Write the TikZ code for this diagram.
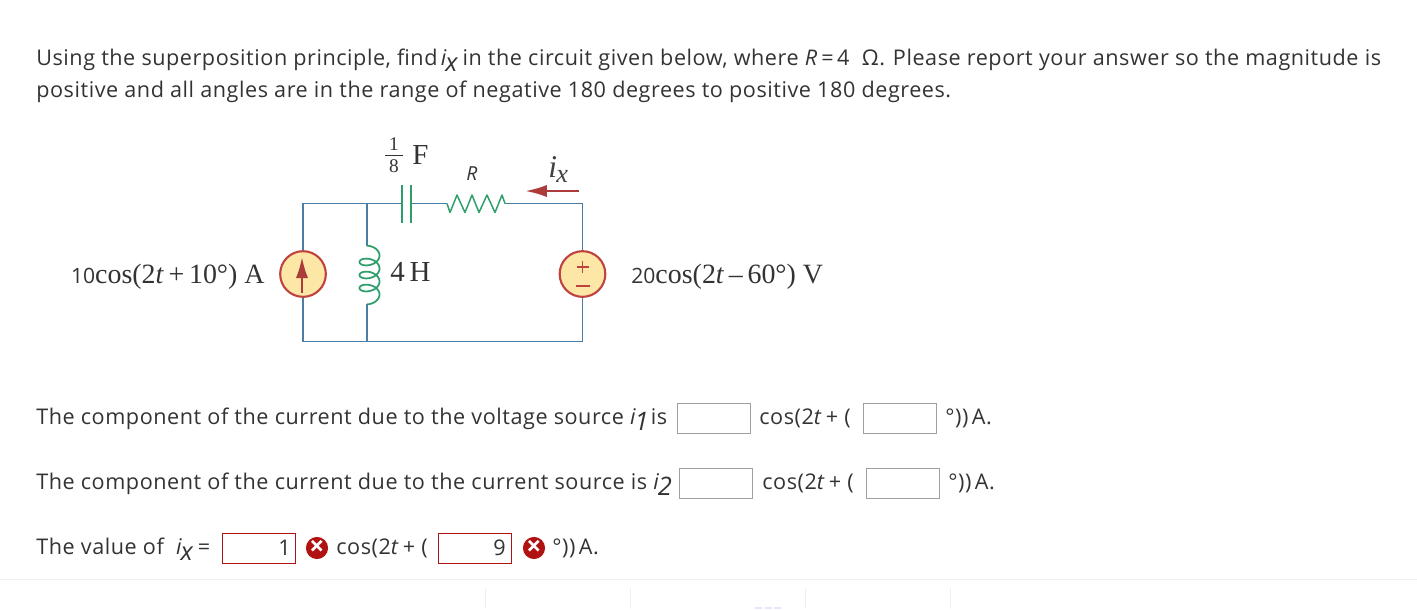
\documentclass[tikz,border=0pt]{standalone}
\usepackage{fontspec}
\setmainfont[LetterSpace=2.5]{Open Sans}
\newfontfamily\bookfont{Liberation Serif}
\usetikzlibrary{arrows.meta}
\definecolor{wireblue}{HTML}{4A7EA8}
\definecolor{partgreen}{HTML}{2E9E6B}
\definecolor{srcred}{HTML}{C0423F}
\definecolor{srcfill}{HTML}{FDE7A6}
\definecolor{inkgray}{HTML}{333333}
\definecolor{boxgray}{HTML}{A0A0A0}
\definecolor{badred}{HTML}{B01212}
\definecolor{ruleline}{HTML}{F0F0F0}
\tikzset{
	txt/.style={anchor=base west, inner sep=0pt, text=inkgray, font=\fontsize{12.3}{15}\selectfont},
	booktxt/.style={anchor=base west, inner sep=0pt, text=black!80, font=\bookfont\fontsize{15.9}{18}\selectfont},
	fracdigit/.style={anchor=base, inner sep=0pt, text=black!80, font=\bookfont\fontsize{11}{11}\selectfont},
	wire/.style={wireblue, line width=0.85pt},
	part/.style={partgreen, line width=0.85pt},
	source/.style={circle, draw=srcred, fill=srcfill, line width=1.2pt, minimum size=26pt, inner sep=0pt},
	emptybox/.style={draw=boxgray, line width=0.5pt, fill=white, minimum width=41.4pt, minimum height=17pt, inner sep=0pt},
	redbox/.style={draw=badred, line width=0.6pt, fill=white, minimum width=41.4pt, minimum height=17.3pt, inner sep=0pt},
	wrongmark/.style={circle, fill=badred, minimum size=12.6pt, inner sep=0pt, text=white, font=\bfseries\fontsize{15}{15}\selectfont},
}
\newcommand{\subx}[1]{\textit{i}\hspace{-1pt}\raisebox{-0.55ex}{\textit{\fontsize{14.5}{15}\selectfont #1}}}
\newcommand{\cosopen}{cos(2\textit{t}\,+\hspace{3.5pt}(}

\begin{document}
\begin{tikzpicture}[x=0.02cm, y=-0.02cm]
		%%%%% START %%%%%
		\useasboundingbox (0, 0) rectangle (1417, 609);
		
		% question
		\node[txt] (lineA) at (36, 65) {Using the superposition principle, find\hspace{-1.5pt} \subx{x}\hspace{-1.5pt} in the circuit given below, where \textit{R}\,=\,4\hspace{7pt}Ω.\hspace{1pt} Please report your answer so the magnitude is};
		\node[txt] (lineB) at (36, 97) {positive and all angles are in the range of negative 180 degrees to positive 180 degrees.};
		
		% circuit corners
		\coordinate (tl) at (303, 203.5);
		\coordinate (tm) at (367, 203.5);
		\coordinate (tr) at (582.5, 203.5);
		\coordinate (bl) at (303, 341.5);
		\coordinate (bm) at (367, 341.5);
		\coordinate (br) at (582.5, 341.5);
		\coordinate (capL) at (402, 203.5);
		\coordinate (capR) at (411, 203.5);
		\coordinate (resL) at (447, 203.5);
		\coordinate (resR) at (505, 203.5);
		\coordinate (indT) at (367, 246);
		\coordinate (indB) at (367, 304);
		
		\node[source] (isrc) at (303, 274) {};
		\node[source] (vsrc) at (582.5, 274) {};
		
		\draw[wire] (isrc) -- (tl) -- (capL);
		\draw[wire] (capR) -- (resL);
		\draw[wire] (resR) -- (tr) -- (vsrc);
		\draw[wire] (isrc) -- (bl) -- (br) -- (vsrc);
		\draw[wire] (tm) -- (indT);
		\draw[wire] (indB) -- (bm);
		
		% capacitor
		\draw[part] (402, 185) -- (402, 223);
		\draw[part] (411, 185) -- (411, 223);
		
		% resistor
		\draw[part, line join=round] (resL) -- (450, 212.5) -- (457, 195) -- (465, 212.5) -- (472, 195) -- (479, 212.5) -- (487, 195) -- (495, 212.5) -- (502, 195) -- (resR);
		
		% inductor
		\draw[part, line width=1pt] plot[domain=-15:1275, samples=200, smooth] ({369.5+10*sin(\x)}, {252.25+2.07*\x*pi/180-6.3*cos(\x)});
		
		% arrows
		\coordinate (ixtail) at (579, 191);
		\coordinate (ixtip) at (525, 191);
		\draw[-{Latex[length=12.5pt, width=7pt]}, srcred!90!black, line width=1.5pt] (ixtail) -- (ixtip);
		\coordinate (isrctail) at (302, 293);
		\coordinate (isrctip) at (302, 257);
		\draw[-{Latex[length=12pt, width=7pt]}, srcred!90!black, line width=1.4pt] (isrctail) -- (isrctip);
		
		% source signs
		\draw[srcred, line width=1pt] (576.5, 267) -- (588.5, 267) (582.5, 261) -- (582.5, 273);
		\draw[srcred, line width=1pt] (575.5, 286) -- (589.5, 286);
		
		% circuit labels
		\node[booktxt, font=\bookfont\fontsize{16.5}{18}\selectfont] (fracF) at (412, 164) {F};
		\node[fracdigit] (fracT) at (394, 150) {1};
		\node[fracdigit] (fracB) at (394, 172) {8};
		\draw[black!80, line width=0.5pt] (385, 155) -- (403, 155);
		\node[anchor=base, inner sep=0pt, text=inkgray, font=\itshape\fontsize{11}{11}\selectfont] (labR) at (472, 180) {R};
		\node[anchor=base west, inner sep=0pt, text=black!75, font=\bookfont\itshape\fontsize{18}{18}\selectfont] (labi) at (548, 177) {i};
		\node[anchor=base west, inner sep=0pt, text=black!75, font=\bookfont\itshape\fontsize{15}{15}\selectfont] (labx) at (556, 182) {x};
		\node[booktxt, font=\bookfont\fontsize{16.5}{18}\selectfont] (lab4H) at (390, 281) {4\,H};
		\node[booktxt, anchor=base east] (labI) at (265, 283) {{\fontspec{Open Sans}\fontsize{12}{12}\selectfont 10}cos(2\textit{t}\,+\,10°) A};
		\node[booktxt] (labV) at (631, 283) {{\fontspec{Open Sans}\fontsize{12}{12}\selectfont 20}cos(2\textit{t}\,–\,60°) V};
		
		% answer rows
		\node[txt] (rowA) at (36, 424) {The component of the current due to the voltage source \subx{1}\hspace{1pt}is};
		\node[emptybox, anchor=north west] (boxA) at (677, 403) {};
		\node[txt] (cosA) at (759, 424) {\cosopen};
		\node[emptybox, anchor=north west] (boxB) at (863, 403) {};
		\node[txt] (endA) at (945, 424) {°))\hspace{2pt}A.};
		
		\node[txt] (rowB) at (36, 489) {The component of the current due to the current source is \subx{2}};
		\node[emptybox, anchor=north west] (boxC) at (679, 468) {};
		\node[txt] (cosB) at (762, 489) {\cosopen};
		\node[emptybox, anchor=north west] (boxD) at (866, 468) {};
		\node[txt] (endB) at (948, 489) {°))\hspace{2pt}A.};
		
		\node[txt] (rowC) at (36, 554) {The value of \ \subx{x}\,=};
		\node[redbox, anchor=north west] (boxE) at (222, 533) {};
		\node[txt, anchor=base east] (valA) at (291, 555) {1};
		\node[wrongmark] (markA) at (317, 548) {×};
		\node[txt] (cosC) at (336, 554) {\cosopen};
		\node[redbox, anchor=north west] (boxF) at (438, 533) {};
		\node[txt, anchor=base east] (valB) at (506, 555) {9};
		\node[wrongmark] (markB) at (534, 548) {×};
		\node[txt] (endC) at (552, 554) {°))\hspace{2pt}A.};
		
		% page rules
		\draw[ruleline, line width=0.5pt] (0, 579) -- (1417, 579);
		\foreach \tickx in {485, 630, 805, 950}
			\draw[ruleline, line width=0.5pt] (\tickx, 588) -- (\tickx, 609);
		\foreach \dashx in {755, 765, 774}
			\draw[blue!10, line width=0.6pt] (\dashx, 608) -- ++(7, 0);
		
		%%%%% END %%%%%
	\end{tikzpicture}
\end{document}
